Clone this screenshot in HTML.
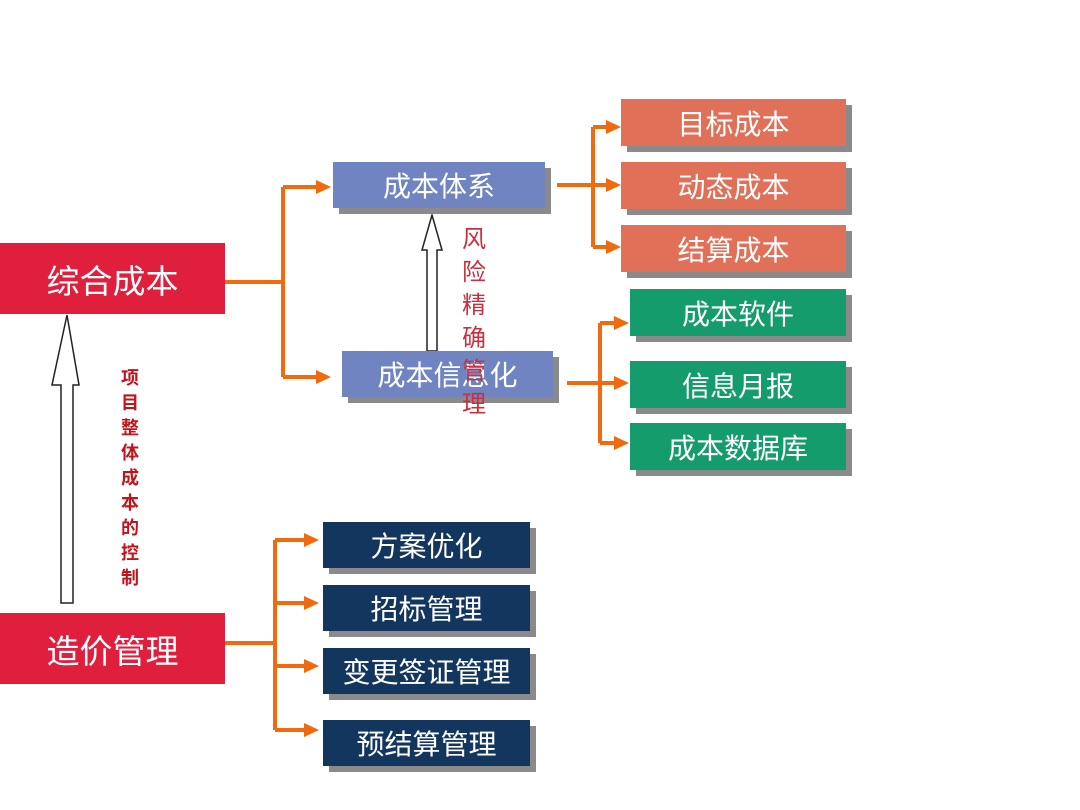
<!DOCTYPE html>
<html><head><meta charset="utf-8"><style>
body{margin:0;width:1080px;height:810px;background:#fff;position:relative;overflow:hidden;font-family:"Liberation Sans","Noto Sans CJK SC",sans-serif}
.b{position:absolute;color:#fff;display:flex;align-items:center;justify-content:center;font-size:28px;box-shadow:6px 6px 0 #8a8a8a}
.r{background:#e01f3d;font-size:33px;box-shadow:none}
.bl{background:#6f84c0}
.s{background:#e07058}
.g{background:#149c6c}
.n{background:#13365f}
.vt{position:absolute;text-align:center}
</style></head><body>
<svg width="1080" height="810" style="position:absolute;left:0;top:0">
<g stroke="#f06a10" stroke-width="4" fill="none">
<path d="M225,282 H283"/><path d="M283,187 V377"/>
<path d="M283,187 H318"/><path d="M283,377 H318"/>
<path d="M557,185 H610"/><path d="M593,127 V247"/>
<path d="M593,127 H608"/><path d="M593,247 H608"/>
<path d="M567,383 H618"/><path d="M600,323 V443"/>
<path d="M600,323 H616"/><path d="M600,443 H616"/>
<path d="M218,643 H275"/><path d="M275,540 V730"/>
<path d="M275,540 H306"/><path d="M275,603 H306"/><path d="M275,666 H306"/><path d="M275,730 H306"/>
</g>
<g fill="#f06a10">
<path d="M316,180 L331,187 L316,194z"/><path d="M316,370 L331,377 L316,384z"/>
<path d="M606,120 L621,127 L606,134z"/><path d="M606,178 L621,185 L606,192z"/><path d="M606,240 L621,247 L606,254z"/>
<path d="M614,316 L629,323 L614,330z"/><path d="M614,376 L629,383 L614,390z"/><path d="M614,436 L629,443 L614,450z"/>
<path d="M304,533 L319,540 L304,547z"/><path d="M304,596 L319,603 L304,610z"/><path d="M304,659 L319,666 L304,673z"/><path d="M304,723 L319,730 L304,737z"/>
</g>
<path d="M61,603 V385 H52 L67,315 L79,385 H73 V603z" fill="#fff" stroke="#222" stroke-width="1.5"/>
<path d="M427,351 V250 H422 L432,215 L442,250 H437 V351z" fill="#fff" stroke="#222" stroke-width="1.5"/>
</svg>
<div class="b r" style="left:0;top:243px;width:225px;height:71px">综合成本</div>
<div class="b r" style="left:0;top:613px;width:225px;height:71px">造价管理</div>
<div class="b bl" style="left:333px;top:162px;width:212px;height:46px">成本体系</div>
<div class="b bl" style="left:342px;top:351px;width:211px;height:46px">成本信息化</div>
<div class="b s" style="left:621px;top:99px;width:225px;height:47px">目标成本</div>
<div class="b s" style="left:621px;top:162px;width:225px;height:47px">动态成本</div>
<div class="b s" style="left:621px;top:225px;width:225px;height:47px">结算成本</div>
<div class="b g" style="left:630px;top:289px;width:216px;height:47px">成本软件</div>
<div class="b g" style="left:630px;top:361px;width:216px;height:47px">信息月报</div>
<div class="b g" style="left:630px;top:423px;width:216px;height:47px">成本数据库</div>
<div class="b n" style="left:323px;top:522px;width:207px;height:46px">方案优化</div>
<div class="b n" style="left:323px;top:585px;width:207px;height:46px">招标管理</div>
<div class="b n" style="left:323px;top:648px;width:207px;height:46px">变更签证管理</div>
<div class="b n" style="left:323px;top:720px;width:207px;height:46px">预结算管理</div>
<div class="vt" style="left:118px;top:366px;width:24px;font-size:18px;line-height:25px;color:#c0141c;font-weight:bold">项<br>目<br>整<br>体<br>成<br>本<br>的<br>控<br>制</div>
<div class="vt" style="left:461px;top:223px;width:26px;font-size:24px;line-height:33px;color:#c83040">风<br>险<br>精<br>确<br>管<br>理</div>
</body></html>
